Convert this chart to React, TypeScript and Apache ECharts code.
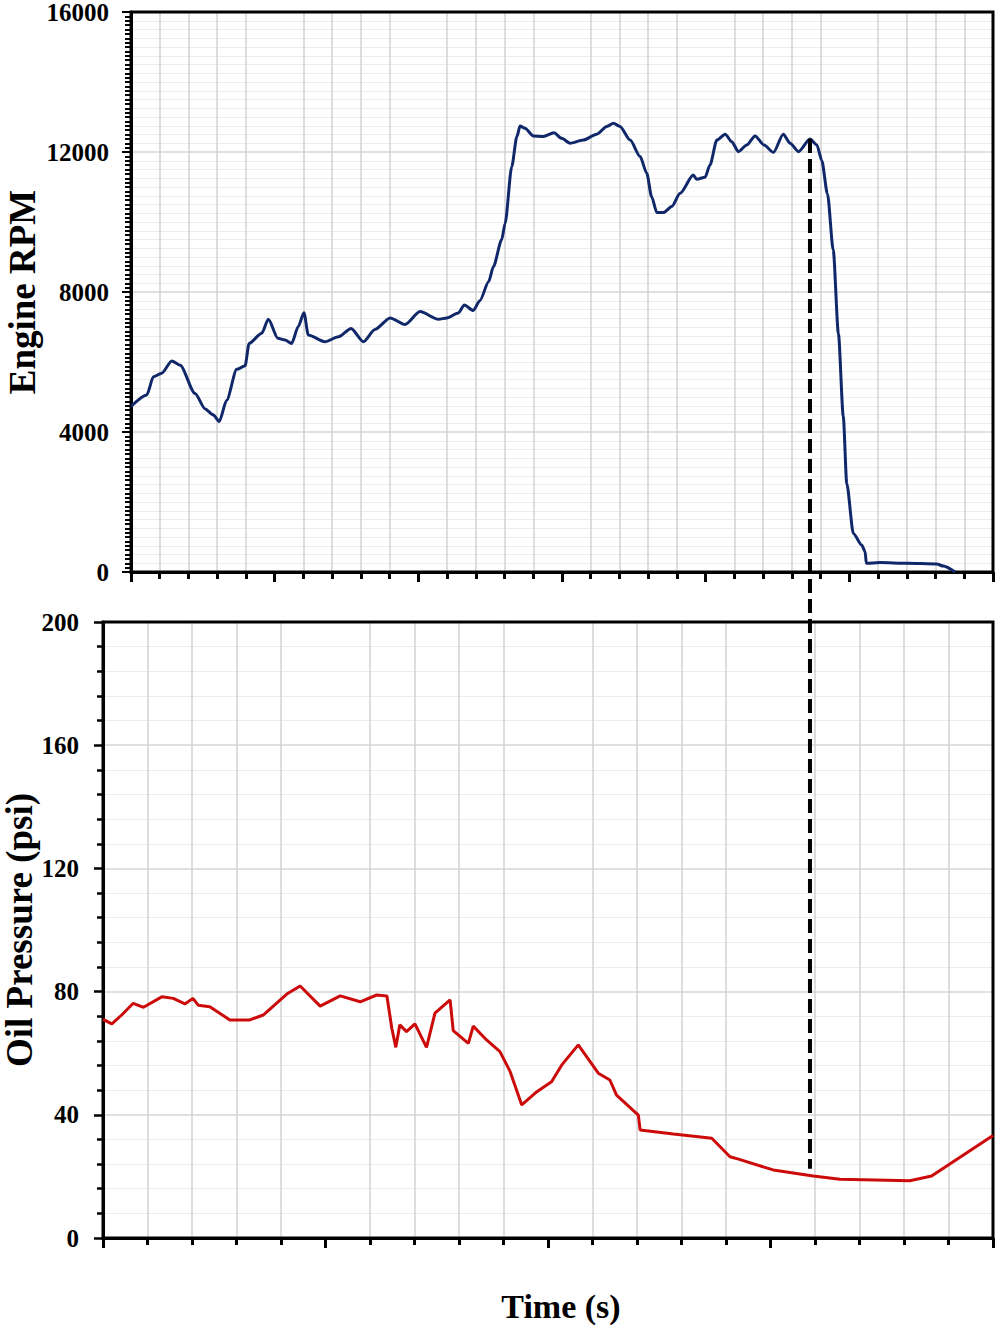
import React, { useEffect, useRef } from "react";
import * as echarts from "echarts";

// Engine RPM trace (time in axis units, 30 minor ticks across)
const rpmTime = [0, 0.55, 0.78, 1.07, 1.42, 1.71, 2.23, 2.58, 2.86, 3.07, 3.33, 3.68, 3.97, 4.11, 4.55, 4.78, 5.11, 5.36, 5.59, 5.82, 6.02, 6.17, 6.75, 7.22, 7.66, 8.09, 8.49, 9.02, 9.54, 10.06, 10.7, 10.99, 11.39, 11.6, 11.91, 12.14, 12.45, 12.61, 12.9, 13.02, 13.25, 13.43, 13.54, 13.71, 14.0, 14.35, 14.72, 14.99, 15.28, 15.74, 16.21, 16.56, 16.79, 17.02, 17.37, 17.72, 17.95, 18.12, 18.3, 18.53, 18.82, 19.11, 19.57, 19.69, 19.98, 20.15, 20.39, 20.68, 20.91, 21.14, 21.43, 21.72, 22.03, 22.36, 22.7, 22.94, 23.23, 23.63, 23.87, 24.04, 24.24, 24.44, 24.62, 24.79, 24.91, 25.14, 25.43, 25.55, 25.59, 26.07, 27.0, 28.04, 28.27, 28.68];
const rpmValues = [4730, 5060, 5580, 5680, 6030, 5910, 5100, 4660, 4490, 4300, 4910, 5790, 5890, 6530, 6820, 7220, 6680, 6630, 6530, 7010, 7410, 6770, 6580, 6720, 6960, 6580, 6930, 7260, 7070, 7440, 7220, 7260, 7400, 7630, 7470, 7750, 8300, 8720, 9490, 9960, 11580, 12440, 12740, 12680, 12460, 12440, 12550, 12390, 12250, 12340, 12510, 12730, 12820, 12730, 12340, 11870, 11390, 10720, 10270, 10270, 10440, 10820, 11340, 11220, 11280, 11630, 12340, 12510, 12290, 12010, 12200, 12460, 12200, 11990, 12510, 12250, 12010, 12370, 12200, 11760, 10800, 9200, 6810, 4440, 2530, 1100, 770, 580, 250, 270, 250, 230, 170, 0];

// Oil pressure trace (time in axis units, 20 minor ticks across)
const oilTime = [0, 0.2, 0.42, 0.68, 0.91, 1.32, 1.58, 1.84, 2.02, 2.14, 2.4, 2.85, 3.3, 3.6, 4.13, 4.43, 4.88, 5.33, 5.78, 6.15, 6.38, 6.49, 6.58, 6.67, 6.82, 7.01, 7.27, 7.46, 7.8, 7.87, 8.21, 8.32, 8.62, 8.92, 9.15, 9.41, 9.75, 10.08, 10.31, 10.68, 11.13, 11.39, 11.54, 12.03, 12.07, 12.82, 13.68, 14.09, 14.28, 15.06, 15.96, 16.56, 18.13, 18.62, 20.0];
const oilValues = [71.0, 69.5, 72.4, 76.2, 74.9, 78.3, 77.8, 76.0, 77.8, 75.6, 75.1, 70.8, 70.8, 72.4, 79.2, 81.8, 75.3, 78.6, 76.7, 78.9, 78.6, 68.1, 61.9, 69.2, 67.0, 69.5, 61.9, 73.0, 77.3, 67.3, 63.2, 68.8, 64.3, 60.5, 54.0, 43.2, 47.5, 50.7, 56.2, 62.7, 53.5, 51.3, 46.4, 39.9, 35.1, 33.8, 32.4, 26.4, 25.6, 22.1, 20.1, 19.1, 18.6, 20.1, 33.3];

// Dashed marker (engine cut-off)
const markerTime = 23.63;
const markerRpm = 12370;
const markerPsi = 22.5;

const rpmAxisMax = 16000;
const rpmAxisStep = 4000;
const oilAxisMax = 200;
const oilAxisStep = 40;

const SERIF = '"Liberation Serif", "Times New Roman", serif';

export default function App() {
  const ref = useRef<HTMLDivElement>(null);

  useEffect(() => {
    if (!ref.current) return;
    const chart = echarts.init(ref.current, undefined, { renderer: "svg" });

    const black = "#000";
    const xTickCommon = (max: number) => ({
      type: "value" as const,
      min: 0,
      max,
      interval: 5,
      axisLine: { show: true, onZero: false, lineStyle: { color: black, width: 3 } },
      axisTick: { show: true, length: 10, lineStyle: { color: black, width: 3 } },
      minorTick: { show: true, splitNumber: 5, length: 7, lineStyle: { color: black, width: 3 } },
      axisLabel: { show: false },
      splitLine: { show: false },
      minorSplitLine: { show: true, lineStyle: { color: "#d2d2d2", width: 1.5 } },
    });

    const labelStyle = {
      color: black,
      fontFamily: SERIF,
      fontWeight: "bold" as const,
      fontSize: 25,
      formatter: (v: number) => String(v),
    };
    const nameStyle = {
      color: black,
      fontFamily: SERIF,
      fontWeight: "bold" as const,
      fontSize: 37,
    };

    const gridCommon = {
      show: true,
      borderColor: black,
      borderWidth: 3,
      backgroundColor: "transparent",
      containLabel: false,
      outerBoundsMode: "none",
      z: 3,
    };

    chart.setOption({
      animation: false,
      backgroundColor: "#fff",
      grid: [
        { ...gridCommon, left: 131, top: 12, right: 6, height: 560 },
        { ...gridCommon, left: 103, top: 622, right: 6, height: 616 },
      ],
      xAxis: [
        { gridIndex: 0, ...xTickCommon(30) },
        { gridIndex: 1, ...xTickCommon(20) },
      ],
      yAxis: [
        {
          gridIndex: 0,
          type: "value",
          min: 0,
          max: rpmAxisMax,
          interval: rpmAxisStep,
          axisLine: { show: true, lineStyle: { color: black, width: 3 } },
          axisTick: { show: true, length: 9, lineStyle: { color: black, width: 2 } },
          minorTick: { show: true, splitNumber: 32, length: 6, lineStyle: { color: black, width: 2 } },
          axisLabel: { ...labelStyle, margin: 22 },
          splitLine: { show: true, lineStyle: { color: "#d6d6d6", width: 1.5 } },
          minorSplitLine: { show: false },
          name: "Engine RPM",
          nameLocation: "middle",
          nameRotate: 90,
          nameGap: 90,
          nameMoveOverlap: false,
          nameTextStyle: nameStyle,
        },
        {
          gridIndex: 0,
          type: "value",
          position: "left",
          min: 0,
          max: rpmAxisMax,
          interval: rpmAxisStep,
          axisLine: { show: false },
          axisTick: { show: false },
          minorTick: { show: false, splitNumber: 16 },
          axisLabel: { show: false },
          splitLine: { show: false },
          minorSplitLine: { show: true, lineStyle: { color: "#ececec", width: 1 } },
        },
        {
          gridIndex: 1,
          type: "value",
          min: 0,
          max: oilAxisMax,
          interval: oilAxisStep,
          axisLine: { show: true, lineStyle: { color: black, width: 3 } },
          axisTick: { show: true, length: 9, lineStyle: { color: black, width: 2.5 } },
          minorTick: { show: true, splitNumber: 5, length: 6, lineStyle: { color: black, width: 2.5 } },
          axisLabel: { ...labelStyle, margin: 24 },
          splitLine: { show: true, lineStyle: { color: "#d6d6d6", width: 1.5 } },
          minorSplitLine: { show: true, lineStyle: { color: "#ececec", width: 1 } },
          name: "Oil Pressure (psi)",
          nameLocation: "middle",
          nameRotate: 90,
          nameGap: 65,
          nameMoveOverlap: false,
          nameTextStyle: nameStyle,
        },
      ],
      series: [
        {
          type: "line",
          xAxisIndex: 0,
          yAxisIndex: 0,
          data: rpmTime.map((t, i) => [t, rpmValues[i]]),
          showSymbol: false,
          smooth: 0.25,
          smoothMonotone: "x",
          lineStyle: { color: "#10286a", width: 3 },
          z: 5,
        },
        {
          type: "line",
          xAxisIndex: 1,
          yAxisIndex: 2,
          data: oilTime.map((t, i) => [t, oilValues[i]]),
          showSymbol: false,
          lineStyle: { color: "#cc0a0a", width: 3 },
          z: 5,
        },
      ],
    });

    const mx = chart.convertToPixel({ xAxisIndex: 0 }, markerTime) as number;
    const my1 = chart.convertToPixel({ yAxisIndex: 0 }, markerRpm) as number;
    const my2 = chart.convertToPixel({ yAxisIndex: 2 }, markerPsi) as number;
    const bottomLeft = chart.convertToPixel({ xAxisIndex: 1 }, 0) as number;
    const bottomRight = chart.convertToPixel({ xAxisIndex: 1 }, 20) as number;

    chart.setOption({
      graphic: [
        {
          type: "line",
          z: 50,
          shape: { x1: mx, y1: my1, x2: mx, y2: my2 },
          style: { stroke: "#000", lineWidth: 4, lineDash: [14, 6] },
        },
        {
          type: "text",
          z: 50,
          x: (bottomLeft + bottomRight) / 2 + 13,
          y: 1306,
          style: {
            text: "Time (s)",
            fill: "#000",
            font: `bold 34px ${SERIF}`,
            textAlign: "center",
            textVerticalAlign: "middle",
          },
        },
      ],
    });

    return () => chart.dispose();
  }, []);

  return (
    <div
      ref={ref}
      style={{ position: "absolute", left: 0, top: 0, width: 999, height: 1328 }}
    />
  );
}
